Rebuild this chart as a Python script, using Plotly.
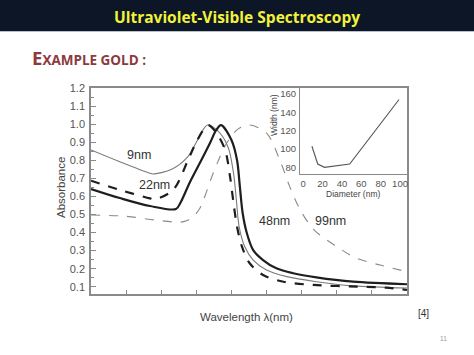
import plotly.graph_objects as go

# ---------------- data ----------------
wl_9 = [350, 391, 434, 438, 465, 488, 500, 509, 516, 530, 545, 553, 557, 561, 569, 581, 600, 629, 671, 723, 800]
ab_9 = [0.857, 0.792, 0.728, 0.724, 0.75, 0.82, 0.90, 0.965, 0.995, 0.965, 0.875, 0.728, 0.58, 0.432, 0.322, 0.248, 0.193, 0.156, 0.128, 0.105, 0.093]

wl_22 = [350, 391, 434, 441, 467, 488, 498, 510, 517, 528, 541, 548, 553, 558, 565, 576, 595, 624, 667, 737, 770, 800]
ab_22 = [0.687, 0.636, 0.589, 0.584, 0.636, 0.80, 0.885, 0.968, 0.995, 0.955, 0.857, 0.71, 0.562, 0.432, 0.322, 0.23, 0.165, 0.128, 0.11, 0.10, 0.095, 0.082]

wl_48 = [350, 391, 434, 471, 477, 491, 507, 520, 528, 535, 550, 558, 562, 566, 572, 581, 595, 614, 638, 671, 723, 800]
ab_48 = [0.641, 0.591, 0.547, 0.530, 0.562, 0.68, 0.80, 0.90, 0.965, 0.995, 0.912, 0.80, 0.654, 0.507, 0.396, 0.303, 0.248, 0.202, 0.175, 0.152, 0.128, 0.114]

wl_99 = [350, 400, 440, 476, 486, 496, 505, 524, 543, 560, 576, 600, 619, 633, 648, 668, 700, 728, 762, 800]
ab_99 = [0.497, 0.49, 0.47, 0.457, 0.465, 0.49, 0.534, 0.728, 0.894, 0.975, 0.995, 0.95, 0.80, 0.654, 0.525, 0.414, 0.322, 0.258, 0.22, 0.183]

size_labels = ["9nm", "22nm", "48nm", "99nm"]
label_x = [419, 441, 611, 691]
label_y = [0.829, 0.663, 0.466, 0.466]

inset_diam = [9, 15, 22, 48, 99]
inset_width = [103, 83.6, 80, 83.6, 154]

y_ticks = [0.1, 0.2, 0.3, 0.4, 0.5, 0.6, 0.7, 0.8, 0.9, 1.0, 1.1, 1.2]
y_ticktext = ["0.1", "0.2", "0.3", "0.4", "0.5", "0.6", "0.7", "0.8", "0.9", "1.0", "1.1", "1.2"]
x_ticks = [350, 400, 450, 500, 550, 600, 650, 700, 750, 800]
inset_xticks = [0, 20, 40, 60, 80, 100]
inset_yticks = [80, 100, 120, 140, 160]

# ---------------- figure ----------------
W, H = 474, 355
L, R, T, B = 91, 407, 88, 294

def px(x):
    return (x - L) / (R - L)

def py(y):
    return (B - y) / (B - T)

sm = 0.9
fig = go.Figure()
fig.add_trace(go.Scatter(x=wl_99, y=ab_99, mode="lines", line=dict(color="#8a8a8a", width=1.1, dash="dash", shape="spline", smoothing=sm), hoverinfo="skip"))
fig.add_trace(go.Scatter(x=wl_9, y=ab_9, mode="lines", line=dict(color="#7a7a7a", width=1.1, shape="spline", smoothing=sm), hoverinfo="skip"))
fig.add_trace(go.Scatter(x=wl_22, y=ab_22, mode="lines", line=dict(color="#1e1e1e", width=2.2, dash="dash", shape="spline", smoothing=sm), hoverinfo="skip"))
fig.add_trace(go.Scatter(x=wl_48, y=ab_48, mode="lines", line=dict(color="#1e1e1e", width=2.2, shape="spline", smoothing=sm), hoverinfo="skip"))

fig.add_trace(go.Scatter(x=inset_diam, y=inset_width, mode="lines", line=dict(color="#555555", width=1.1), xaxis="x2", yaxis="y2", hoverinfo="skip"))

axcol = "#8a8a8a"
tickfont = dict(family="Liberation Sans, Arial", size=11, color="#555555")
fig.update_layout(
    width=W, height=H,
    margin=dict(l=L, r=W - R, t=T, b=H - B),
    paper_bgcolor="white", plot_bgcolor="white",
    showlegend=False,
    xaxis=dict(range=[350, 800], tickvals=x_ticks, showticklabels=False, ticks="inside", ticklen=4,
               tickcolor=axcol, showline=True, linecolor=axcol, linewidth=1.5, mirror=True,
               showgrid=False, zeroline=False, domain=[0, 1]),
    yaxis=dict(range=[0.06, 1.2], tickvals=y_ticks, ticktext=y_ticktext, ticks="inside", ticklen=5,
               tickcolor=axcol, showline=True, linecolor=axcol, linewidth=1.5, mirror=True,
               showgrid=False, zeroline=False, tickfont=tickfont, ticklabelstandoff=2,
               minor=dict(tickvals=[0.1 + 0.05 * k for k in range(-1, 22, 2)], ticks="inside", ticklen=3, tickcolor=axcol),
               domain=[0, 1]),
    xaxis2=dict(range=[-3.3, 107.2], tickvals=inset_xticks, anchor="y2", domain=[px(300), 1.0],
                showline=True, linecolor=axcol, linewidth=1.2, mirror=True, showgrid=False, zeroline=False,
                ticks="", tickfont=dict(family="Liberation Sans, Arial", size=9.5, color="#555555")),
    yaxis2=dict(range=[72.7, 166.5], tickvals=inset_yticks, anchor="x2", domain=[py(174), 1.0],
                showline=True, linecolor=axcol, linewidth=1.2, mirror=True, showgrid=False, zeroline=False,
                ticks="", tickfont=dict(family="Liberation Sans, Arial", size=9.5, color="#555555"),
                ticklabelstandoff=1),
)

# header bar
fig.add_shape(type="rect", xref="paper", yref="paper", x0=px(0), x1=px(W), y0=py(31), y1=py(0),
              fillcolor="#0d1627", line=dict(width=0), layer="below")
fig.add_shape(type="line", xref="paper", yref="paper", x0=px(0), x1=px(W), y0=py(31.5), y1=py(31.5),
              line=dict(color="#b8c0cc", width=1))

ann = []
ann.append(dict(text="<b>Ultraviolet-Visible Spectroscopy</b>", x=px(237), y=py(16.5), xref="paper", yref="paper",
                showarrow=False, xanchor="center", yanchor="middle",
                font=dict(family="Open Sans", size=15.5, color="#f2f23a")))
ann.append(dict(text="<b><span style='font-size:18.5px'>E</span>XAMPLE GOLD :</b>", x=px(30), y=py(57), xref="paper", yref="paper",
                showarrow=False, xanchor="left", yanchor="middle",
                font=dict(family="Open Sans", size=13.5, color="#8b3a40")))
ann.append(dict(text="Absorbance", x=px(61), y=py(188), xref="paper", yref="paper", textangle=-90,
                showarrow=False, xanchor="center", yanchor="middle",
                font=dict(family="Liberation Sans, Arial", size=11.5, color="#444444")))
ann.append(dict(text="Wavelength λ(nm)", x=px(246), y=py(317), xref="paper", yref="paper",
                showarrow=False, xanchor="center", yanchor="middle",
                font=dict(family="Liberation Sans, Arial", size=11.5, color="#444444")))
ann.append(dict(text="Width (nm)", x=px(274), y=py(115), xref="paper", yref="paper", textangle=-90,
                showarrow=False, xanchor="center", yanchor="middle",
                font=dict(family="Liberation Sans, Arial", size=8.5, color="#444444")))
ann.append(dict(text="Diameter (nm)", x=px(353), y=py(194), xref="paper", yref="paper",
                showarrow=False, xanchor="center", yanchor="middle",
                font=dict(family="Liberation Sans, Arial", size=8.5, color="#444444")))
ann.append(dict(text="[4]", x=px(423), y=py(313), xref="paper", yref="paper",
                showarrow=False, xanchor="center", yanchor="middle",
                font=dict(family="Liberation Sans, Arial", size=10, color="#333333")))
ann.append(dict(text="11", x=px(443), y=py(338), xref="paper", yref="paper",
                showarrow=False, xanchor="center", yanchor="middle",
                font=dict(family="Liberation Sans, Arial", size=6.5, color="#999999")))
for t, xx, yy in zip(size_labels, label_x, label_y):
    ann.append(dict(text=t, x=xx, y=yy, xref="x", yref="y", showarrow=False, xanchor="center", yanchor="middle",
                    font=dict(family="Liberation Sans, Arial", size=12.5, color="#333333")))
fig.update_layout(annotations=ann)

fig.write_html("out.html")
